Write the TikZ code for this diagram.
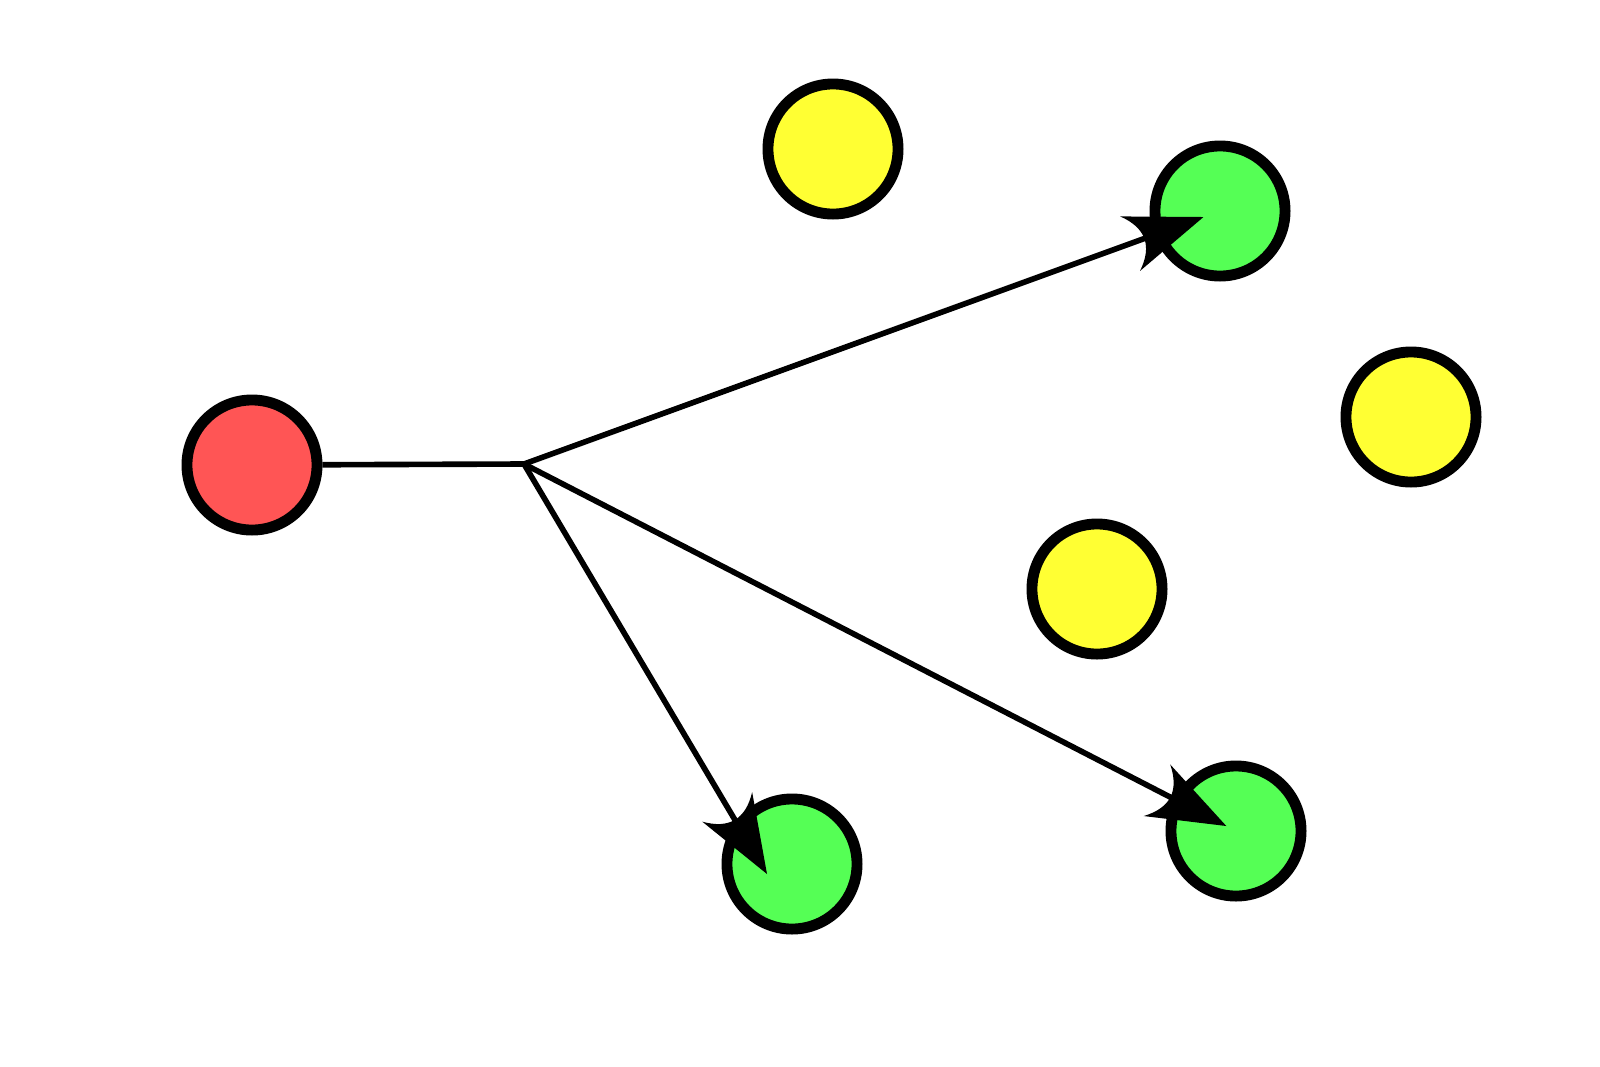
\documentclass[tikz,border=0pt]{standalone}
\usetikzlibrary{calc}
\definecolor{nodered}{RGB}{255,85,85}
\definecolor{nodeyellow}{RGB}{255,255,51}
\definecolor{nodegreen}{RGB}{85,255,85}
\pgfdeclarearrow{
  name = CurvyStealth,
  setup code = {
    \pgfarrowssettipend{0pt}
    \pgfarrowssetlineend{-17pt}
    \pgfarrowssetbackend{-22.2pt}
    \pgfarrowshullpoint{0pt}{0pt}
    \pgfarrowshullpoint{-22.2pt}{8.25pt}
    \pgfarrowshullpoint{-22.2pt}{-8.25pt}
  },
  drawing code = {
    \pgfpathmoveto{\pgfqpoint{0pt}{0pt}}
    \pgfpathlineto{\pgfqpoint{-22.2pt}{8.25pt}}
    \pgfpathquadraticcurveto{\pgfqpoint{-13.6pt}{0pt}}{\pgfqpoint{-22.2pt}{-8.25pt}}
    \pgfpathclose
    \pgfusepathqfill
  },
}
\tikzset{
  ball/.style={circle, draw=black, line width=3.1pt, minimum size=1.3cm, inner sep=0pt},
  redball/.style={ball, fill=nodered},
  yellowball/.style={ball, fill=nodeyellow},
  greenball/.style={ball, fill=nodegreen},
  link/.style={draw=black, line width=1.6pt},
  arrowlink/.style={link, -CurvyStealth},
}
\begin{document}
\begin{tikzpicture}[x=0.01cm, y=-0.01cm]
\useasboundingbox (0,0) rectangle (1600,1066);
\fill[white] (0,0) rectangle (1600,1066);
\node[redball] (r) at (252,465) {};
\node[yellowball] (y1) at (833,149) {};
\node[greenball] (g1) at (1220,211) {};
\node[yellowball] (y2) at (1411,417) {};
\node[yellowball] (y3) at (1097,589) {};
\node[greenball] (g2) at (792,864) {};
\node[greenball] (g3) at (1236,831) {};
\coordinate (b) at (524,464);
\coordinate (t2) at ([shift={(-25,10)}]g2.center);
\draw[link] (r) -- (b);
\draw[arrowlink, shorten >=5pt] (b) -- (g1.center);
\draw[arrowlink] (b) -- (t2);
\draw[arrowlink, shorten >=3.1pt] (b) -- (g3.center);
\end{tikzpicture}
\end{document}
